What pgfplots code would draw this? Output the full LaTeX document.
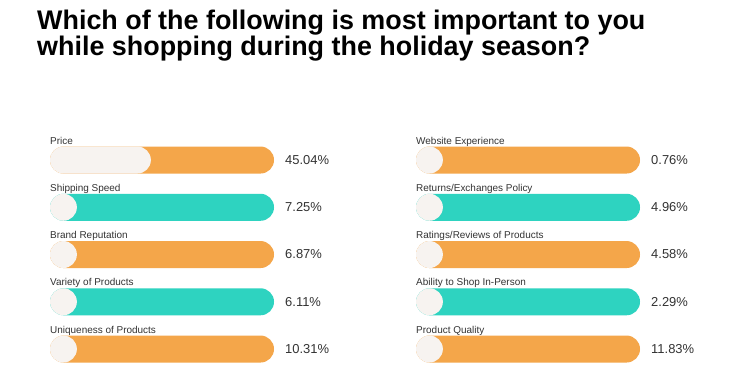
\documentclass[border=0pt]{standalone}
\usepackage{pgfplots}
\pgfplotsset{compat=1.18}
\usepackage{pgfplotstable}
\usepackage{fontspec}
\setmainfont{Liberation Sans}
\definecolor{barorange}{HTML}{F4A64A}
\definecolor{barteal}{HTML}{2ED3C0}
\definecolor{barlight}{HTML}{F7F3F0}
\definecolor{txt}{HTML}{333333}

\pgfplotstableread[col sep=comma]{
pos,val,name
0,45.04,Price
1,7.25,Shipping Speed
2,6.87,Brand Reputation
3,6.11,Variety of Products
4,10.31,Uniqueness of Products
}\lefttable

\pgfplotstableread[col sep=comma]{
pos,val,name
0,0.76,Website Experience
1,4.96,Returns/Exchanges Policy
2,4.58,Ratings/Reviews of Products
3,2.29,Ability to Shop In-Person
4,11.83,Product Quality
}\righttable

\pgfplotsset{
  pillaxis/.style={scale only axis, width=224bp, height=236.25bp,
    xmin=0, xmax=100, ymin=-0.5, ymax=4.5, y dir=reverse,
    hide axis, clip=false, anchor=north west},
  pill/.style={xbar, bar width=27bp, bar shift=0pt, draw=none, rounded corners=13.5bp},
}

\newcommand\pillplots[1]{%
  \addplot[pill, fill=barorange] coordinates {(100,0) (100,2) (100,4)};
  \addplot[pill, fill=barteal] coordinates {(100,1) (100,3)};
  \addplot[pill, fill=barlight] table[x expr={max(\thisrow{val},12)}, y=pos] {#1};
  \addplot[draw=none, mark=none, point meta=explicit symbolic,
    nodes near coords={\pgfplotspointmeta\%},
    every node near coord/.style={anchor=west, xshift=11bp, inner sep=0pt,
      font=\fontsize{13}{13}\selectfont, text=txt}]
    table[x expr=100, y=pos, meta=val] {#1};
  \addplot[draw=none, mark=none, point meta=explicit symbolic,
    nodes near coords={\pgfplotspointmeta},
    every node near coord/.style={anchor=base west, yshift=16bp, inner sep=0pt,
      font=\fontsize{10}{10}\selectfont, text=txt}]
    table[x expr=0, y=pos, meta=name] {#1};
}

\begin{document}
\begin{tikzpicture}[x=1bp, y=1bp]
\fill[white] (0,0) rectangle (730,372);
\node[anchor=base west, inner sep=0pt, font=\fontsize{27}{30}\selectfont\bfseries]
  at (37,343) {Which of the following is most important to you};
\node[anchor=base west, inner sep=0pt, font=\fontsize{27}{30}\selectfont\bfseries]
  at (37,317) {while shopping during the holiday season?};

\begin{axis}[pillaxis, at={(50bp,235.6bp)}]
\pillplots{\lefttable}
\end{axis}
\begin{axis}[pillaxis, at={(416bp,235.6bp)}]
\pillplots{\righttable}
\end{axis}
\pgfresetboundingbox
\path (0,0) rectangle (730,372);
\end{tikzpicture}
\end{document}
